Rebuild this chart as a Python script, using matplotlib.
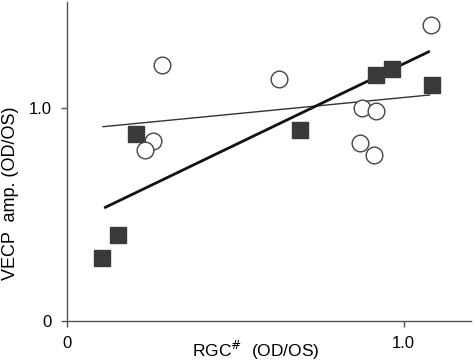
import matplotlib.pyplot as plt

# --- Data ---
sq_x = [0.105, 0.152, 0.206, 0.691, 0.917, 0.966, 1.084]
sq_y = [0.295, 0.402, 0.878, 0.897, 1.156, 1.183, 1.108]

circ_x = [1.082, 0.281, 0.630, 0.254, 0.233, 0.875, 0.919, 0.871, 0.913]
circ_y = [1.390, 1.203, 1.134, 0.843, 0.801, 0.998, 0.987, 0.834, 0.781]

# regression lines (end points)
fit_sq_x = [0.114, 1.074]
fit_sq_y = [0.533, 1.264]
fit_circ_x = [0.107, 1.077]
fit_circ_y = [0.912, 1.061]

plt.rcParams['font.family'] = ['Liberation Sans', 'DejaVu Sans']

fig = plt.figure(figsize=(4.74, 3.61), dpi=100)
ax = fig.add_axes([0.1414, 0.1116, 0.8523, 0.884])

ax.plot(fit_circ_x, fit_circ_y, color="#333333", lw=1.0, zorder=2)
ax.plot(fit_sq_x, fit_sq_y, color="#111111", lw=2.0, zorder=2)

ax.plot(sq_x, sq_y, ls="none", marker="s", ms=11.5, mfc="#3a3a3a",
        mec="#3a3a3a", zorder=3)
ax.plot(circ_x, circ_y, ls="none", marker="o", ms=12, mfc="white",
        mec="#444444", mew=1.0, zorder=3)

ax.set_xlim(0, 1.2)
ax.set_ylim(0, 1.5)
ax.set_xticks([0, 1.0])
ax.set_xticklabels(["0", "1.0"])
ax.set_yticks([0, 1.0])
ax.set_yticklabels(["0", "1.0"])

for s in ["top", "right"]:
    ax.spines[s].set_visible(False)
for s in ["left", "bottom"]:
    ax.spines[s].set_color("#555555")
    ax.spines[s].set_linewidth(1.0)

ax.tick_params(direction="out", length=4, width=1, color="#555555",
               labelsize=12, pad=7)

ax.set_xlabel(r"RGC$^{\#}$  (OD/OS)", fontsize=12.5)
ax.xaxis.set_label_coords(0.468, -0.057)
ax.set_ylabel("VECP  amp. (OD/OS)", fontsize=13)
ax.yaxis.set_label_coords(-0.118, 0.40)

fig.savefig("out.png", dpi=100)
